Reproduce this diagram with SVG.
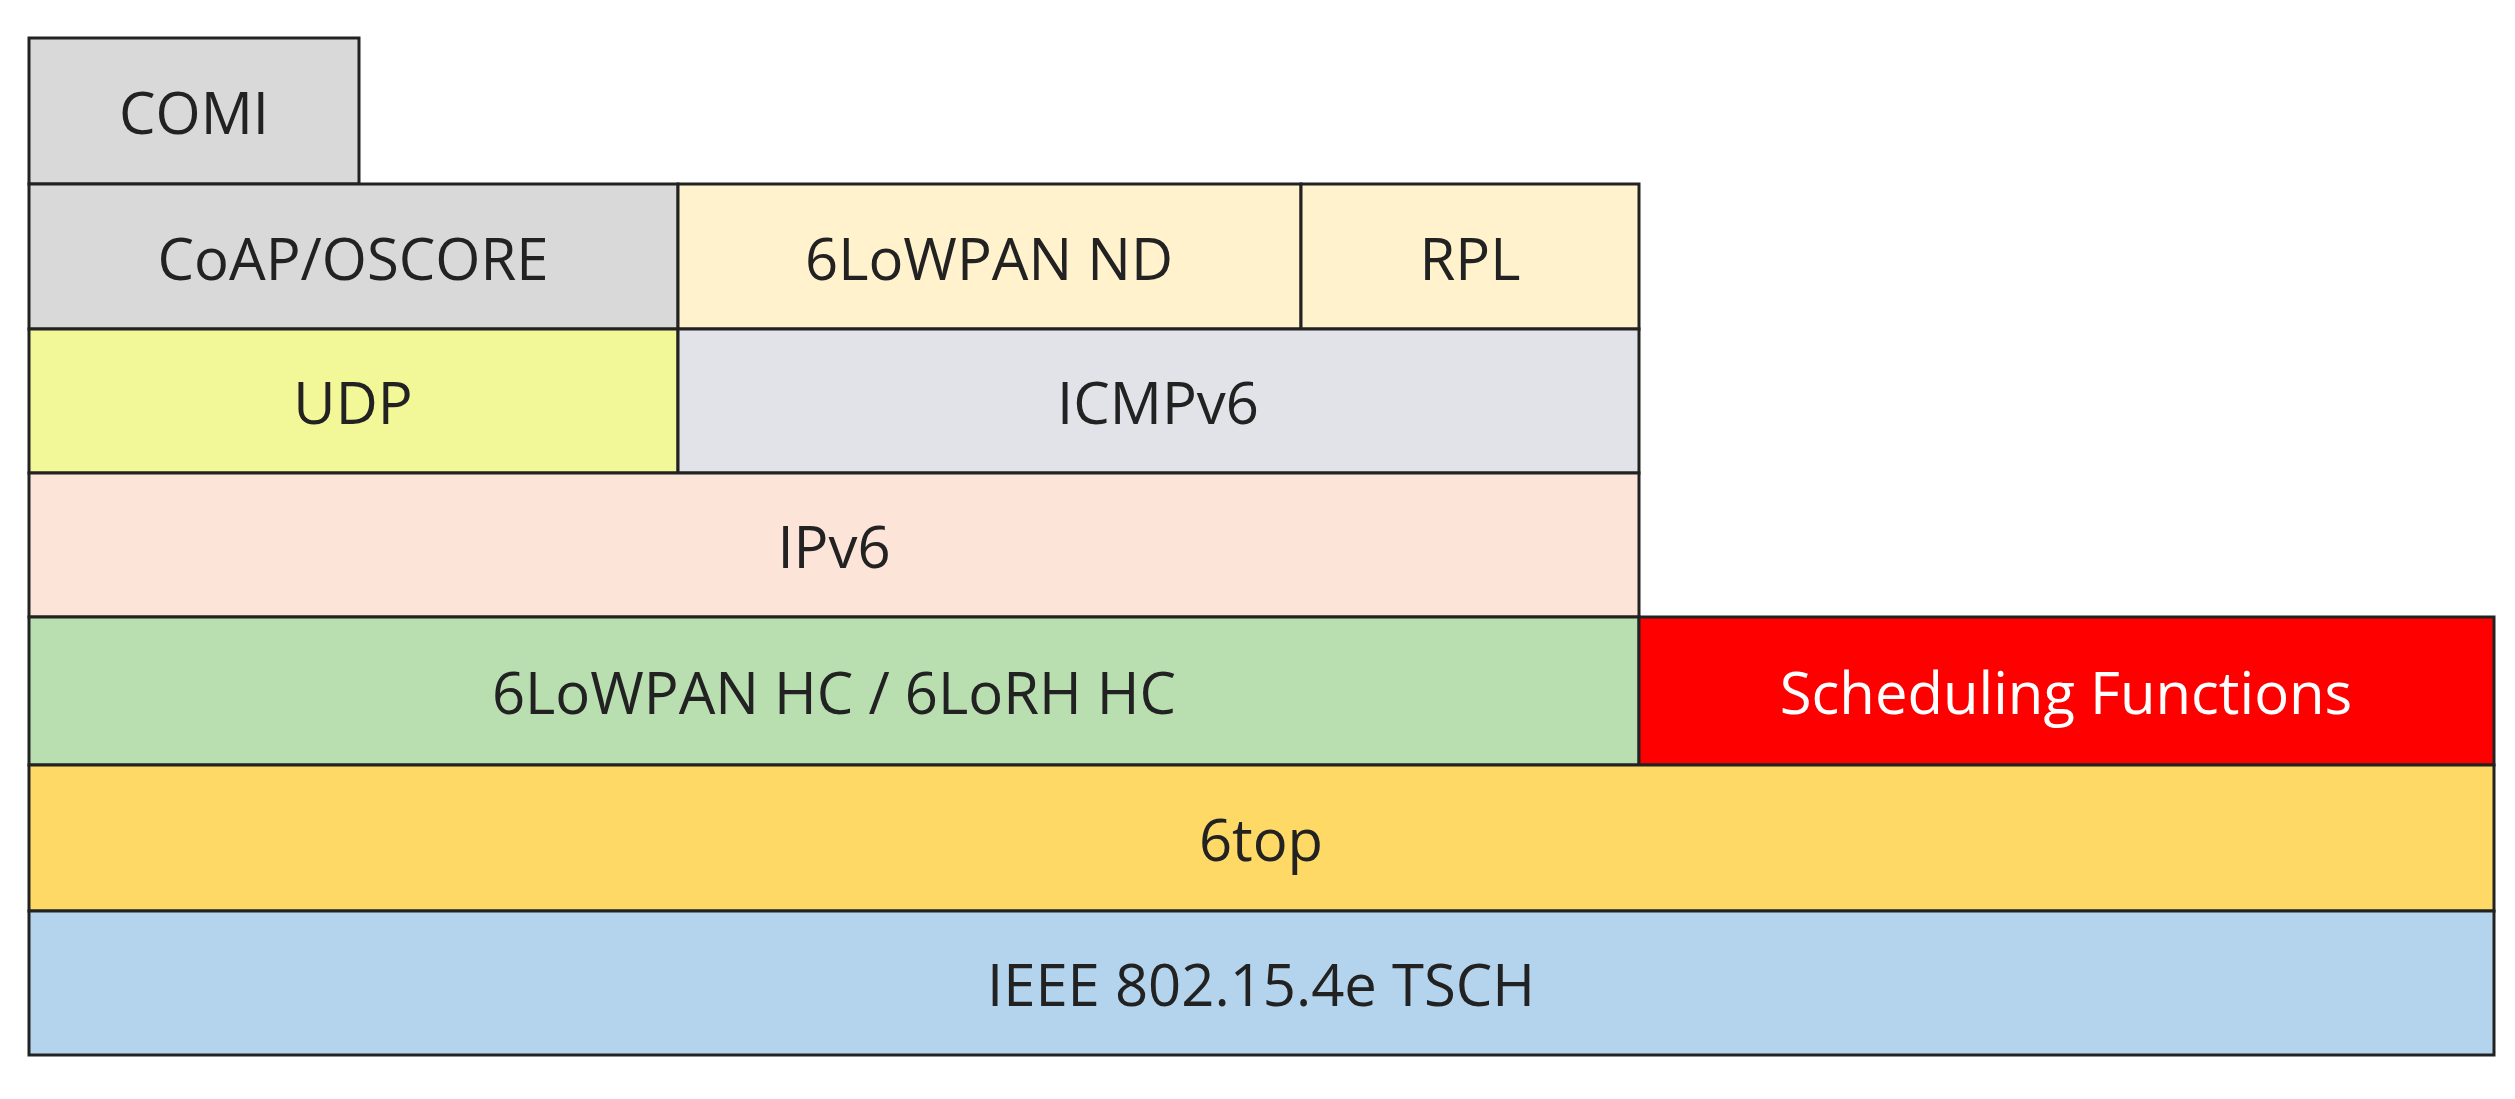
<svg xmlns="http://www.w3.org/2000/svg" width="2515" height="1099" viewBox="0 0 2515 1099">
<style>
rect{stroke:#222;stroke-width:3}
text{font-family:"Open Sans","Liberation Sans",sans-serif;font-size:58px;fill:#222;text-anchor:middle;dominant-baseline:central}
</style>
<rect width="2515" height="1099" fill="#fff" style="stroke:none"/>
<g id="comi"><rect x="29" y="38" width="330" height="146" fill="#d9d9d9"/><text x="194" y="111">COMI</text></g>
<g id="coap"><rect x="29" y="184" width="649" height="145" fill="#d9d9d9"/><text x="353" y="257">CoAP/OSCORE</text></g>
<g id="nd"><rect x="678" y="184" width="623" height="145" fill="#fff2cc"/><text x="989" y="257">6LoWPAN ND</text></g>
<g id="rpl"><rect x="1301" y="184" width="338" height="145" fill="#fff2cc"/><text x="1470" y="257">RPL</text></g>
<g id="udp"><rect x="29" y="329" width="649" height="144" fill="#f2f797"/><text x="353" y="401">UDP</text></g>
<g id="icmp"><rect x="678" y="329" width="961" height="144" fill="#e2e3e8"/><text x="1158" y="401">ICMPv6</text></g>
<g id="ipv6"><rect x="29" y="473" width="1610" height="144" fill="#fde4d9"/><text x="834" y="545">IPv6</text></g>
<g id="hc"><rect x="29" y="617" width="1610" height="148" fill="#b9dfb1"/><text x="834" y="691">6LoWPAN HC / 6LoRH HC</text></g>
<g id="sf"><rect x="1639" y="617" width="855" height="148" fill="#fe0000"/><text x="2066" y="691" style="fill:#fff">Scheduling Functions</text></g>
<g id="top"><rect x="29" y="765" width="2465" height="146" fill="#ffd966"/><text x="1261" y="838">6top</text></g>
<g id="tsch"><rect x="29" y="911" width="2465" height="144" fill="#b4d4ed"/><text x="1261" y="983">IEEE 802.15.4e TSCH</text></g>
<g id="connectors"></g>
</svg>
